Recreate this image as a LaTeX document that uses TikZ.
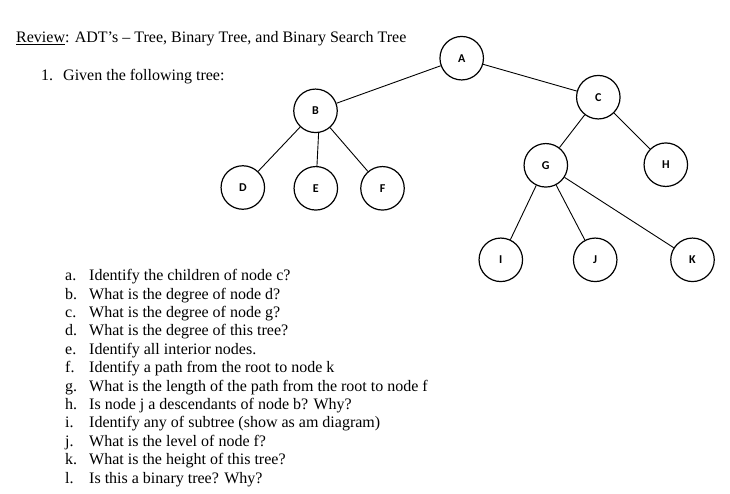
\documentclass[tikz,border=0pt]{standalone}
\usepackage{fontspec}
\setmainfont{Liberation Serif}
\newfontfamily\nodefont{Carlito}
\usepackage{tikz}

\begin{document}
\begin{tikzpicture}[x=1pt,y=-1pt,
    treenode/.style={circle, draw, line width=1.2pt, minimum size=43.5pt, inner sep=0pt, font=\nodefont\bfseries\fontsize{12}{14}\selectfont},
    edge/.style={line width=0.9pt},
    txt/.style={anchor=base west, inner sep=0pt, font=\fontsize{16}{19}\selectfont}]
    \useasboundingbox (0,0) rectangle (730,493);

    % Heading
    \node[txt] (title) at (16,42.7) {\underline{Review}: ADT’s – Tree, Binary Tree, and Binary Search Tree};
    \node[txt] (num) at (41,80) {1.};
    \node[txt] (given) at (63,80) {Given the following tree:};

    % Tree nodes
    \node[treenode] (A) at (461.7,58.2) {A};
    \node[treenode] (B) at (315.5,110.8) {B};
    \node[treenode] (C) at (598.3,97.2) {C};
    \node[treenode] (D) at (242.8,187.5) {D};
    \node[treenode] (E) at (315.8,188.3) {E};
    \node[treenode] (F) at (382.5,188.3) {F};
    \node[treenode] (G) at (545.8,165.3) {G};
    \node[treenode] (H) at (665.8,164.7) {H};
    \node[treenode] (I) at (500.8,259.8) {I};
    \node[treenode] (J) at (595.2,259.8) {J};
    \node[treenode] (K) at (692.5,259.8) {K};

    % Edges
    \draw[edge] (A) -- (B);
    \draw[edge] (A) -- (C);
    \draw[edge] (B) -- (D);
    \draw[edge] (B.-82) -- (E);
    \draw[edge] (B) -- (F);
    \draw[edge] (C) -- (G);
    \draw[edge] (C) -- (H);
    \draw[edge] (G) -- (I);
    \draw[edge] (G) -- (J);
    \draw[edge] (G) -- (K);

    % Questions
    \node[txt] (la) at (65,280.7) {a.};
    \node[txt] (qa) at (89,280.7) {Identify the children of node c?};
    \node[txt] (lb) at (65,299.1) {b.};
    \node[txt] (qb) at (89,299.1) {What is the degree of node d?};
    \node[txt] (lc) at (65,317.5) {c.};
    \node[txt] (qc) at (89,317.5) {What is the degree of node g?};
    \node[txt] (ld) at (65,335.9) {d.};
    \node[txt] (qd) at (89,335.9) {What is the degree of this tree?};
    \node[txt] (le) at (65,354.3) {e.};
    \node[txt] (qe) at (89,354.3) {Identify all interior nodes.};
    \node[txt] (lf) at (65,372.7) {f.};
    \node[txt] (qf) at (89,372.7) {Identify a path from the root to node k};
    \node[txt] (lg) at (65,391.1) {g.};
    \node[txt] (qg) at (89,391.1) {What is the length of the path from the root to node f};
    \node[txt] (lh) at (65,409.5) {h.};
    \node[txt] (qh) at (89,409.5) {Is node j a descendants of node b? Why?};
    \node[txt] (li) at (65,427.9) {i.};
    \node[txt] (qi) at (89,427.9) {Identify any of subtree (show as am diagram)};
    \node[txt] (lj) at (65,446.3) {j.};
    \node[txt] (qj) at (89,446.3) {What is the level of node f?};
    \node[txt] (lk) at (65,464.7) {k.};
    \node[txt] (qk) at (89,464.7) {What is the height of this tree?};
    \node[txt] (ll) at (65,483.1) {l.};
    \node[txt] (ql) at (89,483.1) {Is this a binary tree? Why?};
\end{tikzpicture}
\end{document}
